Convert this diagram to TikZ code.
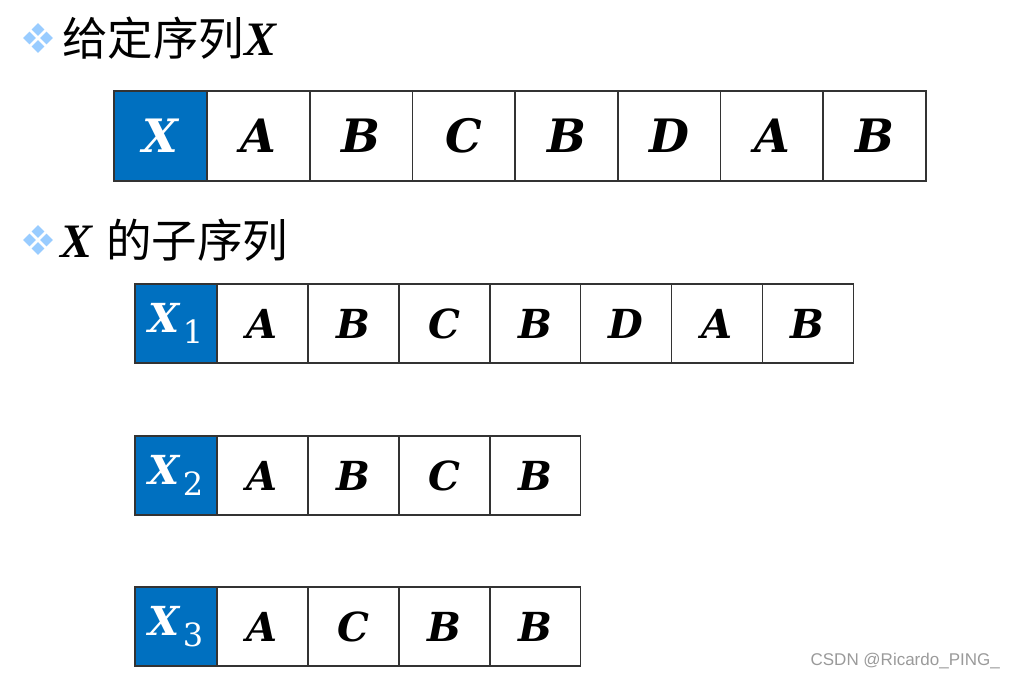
\documentclass[tikz,border=0pt]{standalone}
\usepackage{fontspec}
\newfontfamily\cjk{Noto Sans CJK SC}
\newfontfamily\wmfont{Liberation Sans}
\newfontfamily\cellfont{DejaVu Serif}
\newfontfamily\titlex{Liberation Serif}
\definecolor{cellblue}{HTML}{0070C0}
\definecolor{bullet}{HTML}{99CCFF}
\definecolor{edge}{HTML}{333333}
\definecolor{wm}{HTML}{9A9A9A}
\usetikzlibrary{shapes.geometric}
\tikzset{
  cellbox/.style={draw=edge, line width=1.6pt, minimum height=#1, inner sep=0pt, anchor=west, outer sep=0pt},
  bigtxt/.style={font=\cellfont\fontsize{46}{52}\selectfont\bfseries\itshape},
  smalltxt/.style={font=\cellfont\fontsize{40}{46}\selectfont\bfseries\itshape},
  headcell/.style={fill=cellblue, text=white},
  diam/.style={fill=bullet, draw=none, minimum size=13pt, inner sep=0pt, diamond},
  titletxt/.style={anchor=base west, inner sep=0pt}
}
\newcommand{\mybullet}[3]{%
  \node[diam] (#1a) at (#2,#3-8.5) {};
  \node[diam] (#1b) at (#2-8.5,#3) {};
  \node[diam] (#1c) at (#2+8.5,#3) {};
  \node[diam] (#1d) at (#2,#3+8.5) {};
}
\begin{document}
\begin{tikzpicture}[x=1pt,y=-1pt]
\useasboundingbox (0,0) rectangle (1016,677);
% bullets
\mybullet{ba}{38}{38}
\mybullet{bb}{38}{240}
% titles
\node[titletxt] (t1) at (62,56) {\fontsize{45.5}{50}\selectfont\cjk 给定序列\fontsize{48}{50}\selectfont\titlex\bfseries\itshape X};
\node[titletxt] (t2) at (60,257) {\fontsize{48}{50}\selectfont\titlex\bfseries\itshape X\hspace{14pt}\fontsize{45.5}{50}\selectfont\cjk\mdseries\upshape 的子序列};
% row 0
\node[cellbox=90pt, minimum width=93pt, headcell, bigtxt] (r0c0) at (114,136) {X};
\foreach \i/\l in {1/A,2/B,3/C,4/B,5/D,6/A,7/B}{
  \node[cellbox=90pt, minimum width=102.7pt, bigtxt] (r0c\i) at ({207+(\i-1)*102.7},136) {\l};
}
% rows 1-3
\newcommand{\subrow}[4]{%
  \node[cellbox=79pt, minimum width=82pt, headcell, smalltxt] (r#1c0) at (135,#2) {X\hspace{3pt}\raisebox{-11pt}{\fontsize{32}{36}\selectfont\mdseries\upshape #3}};
  \foreach \l [count=\i] in {#4}{
    \node[cellbox=79pt, minimum width=90.9pt, smalltxt] (r#1c\i) at ({217+(\i-1)*90.9},#2) {\l};
  }
}
\subrow{1}{323.5}{1}{A,B,C,B,D,A,B}
\subrow{2}{475.5}{2}{A,B,C,B}
\subrow{3}{626.5}{3}{A,C,B,B}
% watermark
\node[anchor=base east, inner sep=0pt, text=wm, font=\wmfont\fontsize{17}{20}\selectfont] (wm) at (1000,665) {CSDN @Ricardo\_PING\_};
\end{tikzpicture}
\end{document}
